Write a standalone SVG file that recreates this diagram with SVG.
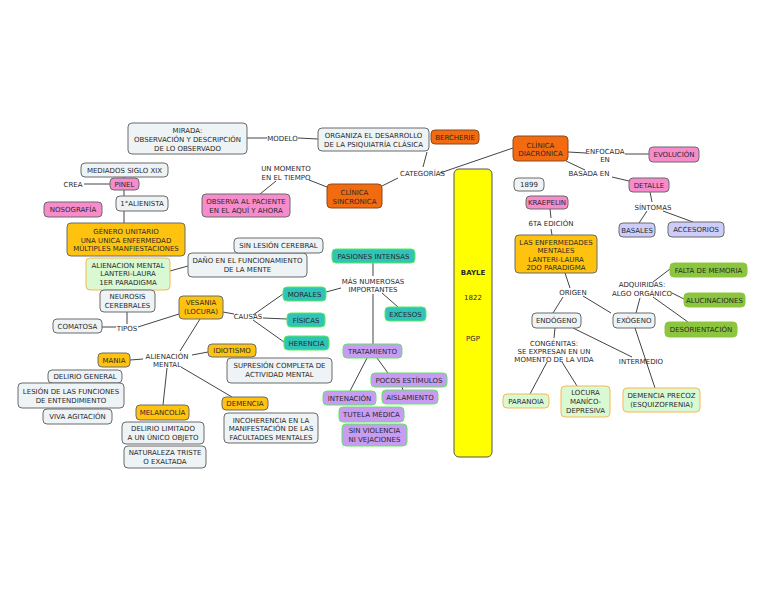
<svg xmlns="http://www.w3.org/2000/svg" width="768" height="594" viewBox="0 0 768 594">
<style>
text{font-family:"DejaVu Sans",Verdana,sans-serif;font-size:7px;fill:#2a2a2a;text-anchor:middle}
rect{stroke-width:1}
.gray{fill:#eef3f5;stroke:#6a6a6a}
.pink{fill:#f78bcb;stroke:#6a6a6a}
.orng{fill:#f26b11;stroke:#8a4a20}
.yel{fill:#ffc30f;stroke:#6a6a6a}
.teal{fill:#2fc4b8;stroke:#5de85d}
.purp{fill:#c79cf2;stroke:#5de85d}
.olive{fill:#8cc63e;stroke:#8cc63e}
.lgrn{fill:#d9f9d3;stroke:#f9b751}
.lav{fill:#cccdf9;stroke:#6a6a6a}
.bay{fill:#ffff00;stroke:#555}
.c line{stroke:#444;stroke-width:1;fill:none}
.bold{font-weight:bold}
</style>
<rect width="768" height="594" fill="#ffffff"/>
<g class="c" id="connectors">
<line x1="247" y1="138" x2="267" y2="138"/>
<line x1="298" y1="138" x2="318" y2="139"/>
<line x1="427" y1="152" x2="423" y2="167"/>
<line x1="398" y1="178" x2="382" y2="186"/>
<line x1="440" y1="173" x2="513" y2="148"/>
<line x1="309" y1="180" x2="327" y2="187"/>
<line x1="276" y1="181" x2="260" y2="194"/>
<line x1="568" y1="152" x2="586" y2="153"/>
<line x1="625" y1="154" x2="649" y2="154"/>
<line x1="566" y1="161" x2="585" y2="170"/>
<line x1="612" y1="177" x2="629" y2="181"/>
<line x1="650" y1="192" x2="652" y2="202"/>
<line x1="647" y1="211" x2="639" y2="223"/>
<line x1="663" y1="211" x2="693" y2="222"/>
<line x1="550" y1="209" x2="551" y2="218"/>
<line x1="551" y1="229" x2="552" y2="235"/>
<line x1="565" y1="273" x2="570" y2="288"/>
<line x1="563" y1="297" x2="553" y2="313"/>
<line x1="583" y1="296" x2="611" y2="313"/>
<line x1="653" y1="282" x2="670" y2="269"/>
<line x1="672" y1="293" x2="684" y2="299"/>
<line x1="653" y1="297" x2="688" y2="322"/>
<line x1="640" y1="298" x2="636" y2="313"/>
<line x1="555" y1="328" x2="554" y2="338"/>
<line x1="547" y1="362" x2="530" y2="394"/>
<line x1="562" y1="362" x2="577" y2="386"/>
<line x1="573" y1="328" x2="632" y2="357"/>
<line x1="635" y1="328" x2="655" y2="388"/>
<line x1="84" y1="184" x2="110" y2="184"/>
<line x1="124" y1="177" x2="124" y2="178"/>
<line x1="124" y1="190" x2="124" y2="196"/>
<line x1="124" y1="211" x2="124" y2="223"/>
<line x1="170" y1="271" x2="188" y2="266"/>
<line x1="127" y1="312" x2="127" y2="324"/>
<line x1="102" y1="327" x2="116" y2="327"/>
<line x1="138" y1="327" x2="179" y2="314"/>
<line x1="223" y1="312" x2="234" y2="314"/>
<line x1="253" y1="315" x2="283" y2="294"/>
<line x1="263" y1="318" x2="287" y2="319"/>
<line x1="253" y1="320" x2="284" y2="342"/>
<line x1="326" y1="292" x2="341" y2="288"/>
<line x1="373" y1="263" x2="373" y2="276"/>
<line x1="382" y1="293" x2="398" y2="307"/>
<line x1="373" y1="294" x2="373" y2="344"/>
<line x1="367" y1="358" x2="350" y2="391"/>
<line x1="377" y1="358" x2="388" y2="373"/>
<line x1="402" y1="387" x2="403" y2="390"/>
<line x1="200" y1="319" x2="180" y2="351"/>
<line x1="130" y1="360" x2="143" y2="359"/>
<line x1="192" y1="355" x2="208" y2="352"/>
<line x1="167" y1="368" x2="163" y2="405"/>
<line x1="181" y1="367" x2="232" y2="397"/>
</g>
<g id="n-mirada"><rect class="gray" x="128" y="123" width="119" height="31" rx="4"/><text x="187.5" y="132.5">MIRADA:</text><text x="187.5" y="141.5">OBSERVACIÓN Y DESCRIPCIÓN</text><text x="187.5" y="150.5">DE LO OBSERVADO</text></g>
<g id="l-modelo"><text x="282.5" y="140.5">MODELO</text></g>
<g id="n-organiza"><rect class="gray" x="318" y="128" width="111" height="23" rx="4"/><text x="373.5" y="137.5">ORGANIZA EL DESARROLLO</text><text x="373.5" y="146.5">DE LA PSIQUIATRÍA CLÁSICA</text></g>
<g id="n-bercherie"><rect class="orng" x="431" y="130" width="48" height="14" rx="4"/><text x="455" y="139.5">BERCHERIE</text></g>
<g id="l-categorias"><text x="422.5" y="175.5">CATEGORÍAS</text></g>
<g id="l-momento"><text x="286" y="170.5">UN MOMENTO</text><text x="286" y="179.5">EN EL TIEMPO</text></g>
<g id="n-sincronica"><rect class="orng" x="327" y="184" width="55" height="24" rx="4"/><text x="354.5" y="194.5">CLÍNICA</text><text x="354.5" y="203.5">SINCRONICA</text></g>
<g id="n-observa"><rect class="pink" x="202" y="194" width="88" height="23" rx="4"/><text x="246" y="204">OBSERVA AL PACIENTE</text><text x="246" y="213">EN EL AQUÍ Y AHORA</text></g>
<g id="n-diacronica"><rect class="orng" x="513" y="136" width="55" height="25" rx="4"/><text x="540.5" y="147.5">CLÍNICA</text><text x="540.5" y="156">DIACRÓNICA</text></g>
<g id="l-enfocada"><text x="605" y="153.5">ENFOCADA</text><text x="605" y="161.5">EN</text></g>
<g id="n-evolucion"><rect class="pink" x="649" y="147" width="50" height="15" rx="4"/><text x="674" y="157">EVOLUCIÓN</text></g>
<g id="l-basada"><text x="589" y="175.5">BASADA EN</text></g>
<g id="n-detalle"><rect class="pink" x="629" y="178" width="40" height="14" rx="4"/><text x="649" y="187.5">DETALLE</text></g>
<g id="l-sintomas"><text x="653" y="209.5">SÍNTOMAS</text></g>
<g id="n-basales"><rect class="lav" x="619" y="223" width="36" height="14" rx="4"/><text x="637" y="232.5">BASALES</text></g>
<g id="n-accesorios"><rect class="lav" x="668" y="222" width="56" height="15" rx="4"/><text x="696" y="232">ACCESORIOS</text></g>
<g id="n-1899"><rect class="gray" x="514" y="178" width="30" height="13" rx="4"/><text x="529" y="187">1899</text></g>
<g id="n-kraepelin"><rect class="pink" x="526" y="196" width="42" height="13" rx="4"/><text x="547" y="205">KRAEPELIN</text></g>
<g id="l-6ta"><text x="551" y="225.5">6TA EDICIÓN</text></g>
<g id="n-enfermedades"><rect class="yel" x="515" y="235" width="82" height="38" rx="4"/><text x="556" y="244.5">LAS ENFERMEDADES</text><text x="556" y="253">MENTALES</text><text x="556" y="261.5">LANTERI-LAURA</text><text x="556" y="270">2DO PARADIGMA</text></g>
<g id="l-origen"><text x="573" y="294.5">ORIGEN</text></g>
<g id="n-endogeno"><rect class="gray" x="532" y="313" width="49" height="15" rx="4"/><text x="556.5" y="323">ENDÓGENO</text></g>
<g id="n-exogeno"><rect class="gray" x="613" y="313" width="42" height="15" rx="4"/><text x="634" y="323">EXÓGENO</text></g>
<g id="l-adquiridas"><text x="642" y="286.5">ADQUIRIDAS:</text><text x="642" y="295.5">ALGO ORGÁNICO</text></g>
<g id="n-falta"><rect class="olive" x="670" y="263" width="77" height="14" rx="4"/><text x="708.5" y="272.5">FALTA DE MEMORIA</text></g>
<g id="n-alucinaciones"><rect class="olive" x="684" y="293" width="61" height="14" rx="4"/><text x="714.5" y="302.5">ALUCINACIONES</text></g>
<g id="n-desorientacion"><rect class="olive" x="665" y="322" width="72" height="15" rx="4"/><text x="701" y="332">DESORIENTACIÓN</text></g>
<g id="l-congenitas"><text x="554" y="345.5">CONGÉNITAS:</text><text x="554" y="354">SE EXPRESAN EN UN</text><text x="554" y="362">MOMENTO DE LA VIDA</text></g>
<g id="l-intermedio"><text x="641" y="363.5">INTERMEDIO</text></g>
<g id="n-paranoia"><rect class="lgrn" x="503" y="394" width="46" height="14" rx="4"/><text x="526" y="403.5">PARANOIA</text></g>
<g id="n-locura"><rect class="lgrn" x="561" y="386" width="49" height="31" rx="4"/><text x="585.5" y="395">LOCURA</text><text x="585.5" y="404">MANÍCO-</text><text x="585.5" y="413">DEPRESIVA</text></g>
<g id="n-precoz"><rect class="lgrn" x="623" y="388" width="77" height="24" rx="4"/><text x="661.5" y="398">DEMENCIA PRECOZ</text><text x="661.5" y="407">(ESQUIZOFRENIA)</text></g>
<g id="n-bayle"><rect class="bay" x="454" y="169" width="38" height="288" rx="5"/><text class="bold" x="473" y="274.5">BAYLE</text><text x="473" y="299.5">1822</text><text x="473" y="340.5">PGP</text></g>
<g id="n-mediados"><rect class="gray" x="81" y="163" width="87" height="14" rx="4"/><text x="124.5" y="172.5">MEDIADOS SIGLO XIX</text></g>
<g id="n-pinel"><rect class="pink" x="110" y="178" width="29" height="12" rx="4"/><text x="124.5" y="186.5">PINEL</text></g>
<g id="l-crea"><text x="73" y="186.5">CREA</text></g>
<g id="n-nosografia"><rect class="pink" x="44" y="202" width="58" height="15" rx="4"/><text x="73" y="212">NOSOGRAFÍA</text></g>
<g id="n-alienista"><rect class="gray" x="116" y="196" width="52" height="15" rx="4"/><text x="142" y="206">1°ALIENISTA</text></g>
<g id="n-genero"><rect class="yel" x="67" y="223" width="118" height="33" rx="4"/><text x="126" y="234">GÉNERO UNITARIO</text><text x="126" y="242.5">UNA UNICA ENFERMEDAD</text><text x="126" y="251">MÚLTIPLES MANFIESTACIONES</text></g>
<g id="n-alienacion"><rect class="lgrn" x="86" y="258" width="84" height="32" rx="4"/><text x="128" y="267.5">ALIENACION MENTAL</text><text x="128" y="276">LANTERI-LAURA</text><text x="128" y="284.5">1ER PARADIGMA</text></g>
<g id="n-dano"><rect class="gray" x="188" y="253" width="119" height="24" rx="4"/><text x="247.5" y="262.5">DAÑO EN EL FUNCIONAMIENTO</text><text x="247.5" y="271.5">DE LA MENTE</text></g>
<g id="n-sinlesion"><rect class="gray" x="234" y="238" width="89" height="15" rx="4"/><text x="278.5" y="248">SIN LESIÓN CEREBRAL</text></g>
<g id="n-neurosis"><rect class="gray" x="100" y="290" width="55" height="22" rx="4"/><text x="127.5" y="298.5">NEUROSIS</text><text x="127.5" y="307.5">CEREBRALES</text></g>
<g id="l-tipos"><text x="127" y="330.5">TIPOS</text></g>
<g id="n-comatosa"><rect class="gray" x="53" y="319" width="49" height="14" rx="4"/><text x="77.5" y="328.5">COMATOSA</text></g>
<g id="n-vesania"><rect class="yel" x="179" y="296" width="44" height="23" rx="4"/><text x="201" y="305">VESANIA</text><text x="201" y="314">(LOCURA)</text></g>
<g id="l-causas"><text x="248" y="318.5">CAUSAS</text></g>
<g id="n-morales"><rect class="teal" x="283" y="287" width="43" height="14" rx="4"/><text x="304.5" y="296.5">MORALES</text></g>
<g id="n-fisicas"><rect class="teal" x="287" y="313" width="38" height="14" rx="4"/><text x="306" y="322.5">FÍSICAS</text></g>
<g id="n-herencia"><rect class="teal" x="284" y="336" width="45" height="14" rx="4"/><text x="306.5" y="345.5">HERENCIA</text></g>
<g id="l-numerosas"><text x="373" y="283.5">MÁS NUMEROSAS</text><text x="373" y="291.5">IMPORTANTES</text></g>
<g id="n-pasiones"><rect class="teal" x="332" y="249" width="83" height="14" rx="4"/><text x="373.5" y="258.5">PASIONES INTENSAS</text></g>
<g id="n-excesos"><rect class="teal" x="385" y="307" width="41" height="14" rx="4"/><text x="405.5" y="316.5">EXCESOS</text></g>
<g id="n-tratamiento"><rect class="purp" x="343" y="344" width="59" height="14" rx="4"/><text x="372.5" y="353.5">TRATAMIENTO</text></g>
<g id="n-pocos"><rect class="purp" x="371" y="373" width="76" height="14" rx="4"/><text x="409" y="382.5">POCOS ESTÍMULOS</text></g>
<g id="n-intenacion"><rect class="purp" x="323" y="391" width="53" height="14" rx="4"/><text x="349.5" y="400.5">INTENACIÓN</text></g>
<g id="n-aislamiento"><rect class="purp" x="382" y="390" width="56" height="14" rx="4"/><text x="410" y="399.5">AISLAMIENTO</text></g>
<g id="n-tutela"><rect class="purp" x="339" y="407" width="65" height="15" rx="4"/><text x="371.5" y="417">TUTELA MÉDICA</text></g>
<g id="n-sinviolencia"><rect class="purp" x="342" y="424" width="65" height="22" rx="4"/><text x="374.5" y="433">SIN VIOLENCIA</text><text x="374.5" y="442">NI VEJACIONES</text></g>
<g id="l-alienacion"><text x="167" y="358.5">ALIENACIÓN</text><text x="167" y="366.5">MENTAL</text></g>
<g id="n-mania"><rect class="yel" x="98" y="353" width="32" height="14" rx="4"/><text x="114" y="362.5">MANIA</text></g>
<g id="n-idiotismo"><rect class="yel" x="208" y="344" width="48" height="13" rx="4"/><text x="232" y="353">IDIOTISMO</text></g>
<g id="n-supresion"><rect class="gray" x="227" y="358" width="105" height="25" rx="4"/><text x="279.5" y="368">SUPRESIÓN COMPLETA DE</text><text x="279.5" y="377">ACTIVIDAD MENTAL</text></g>
<g id="n-delirio"><rect class="gray" x="48" y="370" width="74" height="13" rx="4"/><text x="85" y="379">DELIRIO GENERAL</text></g>
<g id="n-lesion"><rect class="gray" x="18" y="383" width="106" height="25" rx="4"/><text x="71" y="393.5">LESIÓN DE LAS FUNCIONES</text><text x="71" y="402.5">DE ENTENDIMIENTO</text></g>
<g id="n-viva"><rect class="gray" x="43" y="409" width="69" height="15" rx="4"/><text x="77.5" y="419">VIVA AGITACIÓN</text></g>
<g id="n-melancolia"><rect class="yel" x="136" y="405" width="53" height="15" rx="4"/><text x="162.5" y="415">MELANCOLÍA</text></g>
<g id="n-demencia"><rect class="yel" x="222" y="397" width="46" height="13" rx="4"/><text x="245" y="406">DEMENCIA</text></g>
<g id="n-incoherencia"><rect class="gray" x="224" y="413" width="94" height="30" rx="4"/><text x="271" y="422.5">INCOHERENCIA EN LA</text><text x="271" y="431">MANIFESTACIÓN DE LAS</text><text x="271" y="439.5">FACULTADES MENTALES</text></g>
<g id="n-limitado"><rect class="gray" x="122" y="422" width="82" height="22" rx="4"/><text x="163" y="431">DELIRIO LIMITADO</text><text x="163" y="440">A UN ÚNICO OBJETO</text></g>
<g id="n-naturaleza"><rect class="gray" x="124" y="446" width="82" height="22" rx="4"/><text x="165" y="455">NATURALEZA TRISTE</text><text x="165" y="464">O EXALTADA</text></g>
</svg>
